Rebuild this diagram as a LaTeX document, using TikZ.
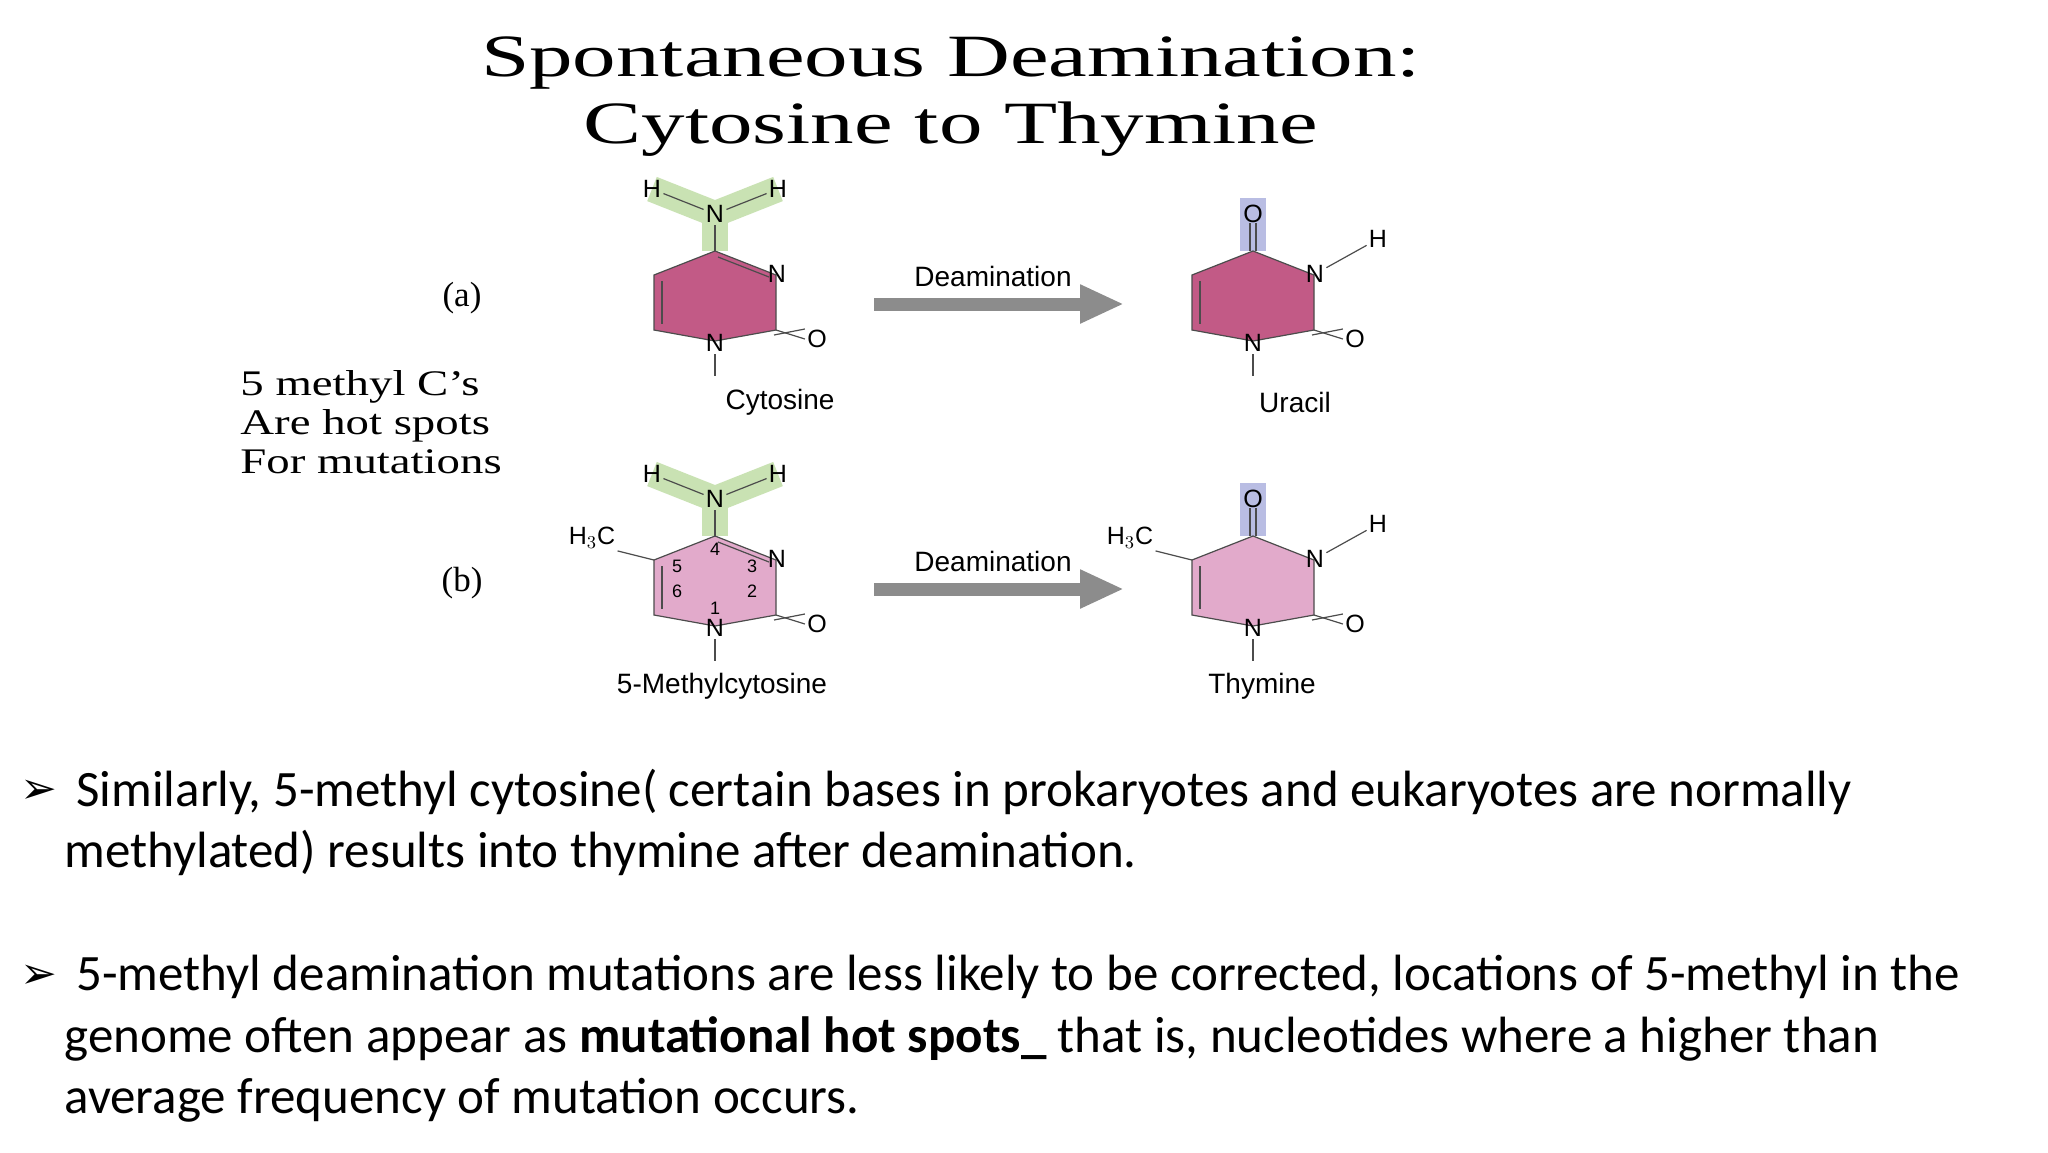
\documentclass[tikz,border=0pt]{standalone}
\usepackage{fontspec}
\setmainfont{Liberation Serif}
\newfontfamily\lab{Liberation Sans}
\newfontfamily\body{Carlito}
\newfontfamily\djv{DejaVu Sans}
\usetikzlibrary{arrows.meta}
\definecolor{ringA}{HTML}{C25A86}
\definecolor{ringB}{HTML}{E2AACB}
\definecolor{grn}{HTML}{C9E2B3}
\definecolor{blu}{HTML}{B9BDE3}
\definecolor{arr}{HTML}{8C8C8C}
\tikzset{
 atom/.style={font=\lab\fontsize{12.5}{14}\selectfont,inner sep=1pt},
 num/.style={font=\lab\fontsize{9}{10}\selectfont,inner sep=0pt},
 lbl/.style={font=\lab\fontsize{14}{16}\selectfont,inner sep=1pt},
 ser/.style={font=\fontsize{17.5}{20}\selectfont,inner sep=1pt},
 bond/.style={draw=black!70,line width=0.6pt},
 bullet/.style={font=\body\fontsize{25.5}{30}\selectfont,anchor=west,inner sep=0pt},
}
\newcommand{\ringbase}[1]{%
 \draw[bond,fill=#1] (0,-50) -- (61,-26) -- (61,29) -- (0,40) -- (-61,29) -- (-61,-26) -- cycle;
 \draw[bond] (-53,-20) -- (-53,23);
 \node[atom] (n1) at (0,42) {N};
 \node[atom] (o2) at (102,38) {O};
 \draw[bond] (61,29) -- (o2.west);
 \draw[bond] (59,34) -- ([yshift=5]o2.west);
 \coordinate (r) at (0,75);
 \draw[bond] (n1.south) -- (r);
}
\newcommand{\cyt}[1]{%
 \draw[grn,line width=13pt,line join=round] (-63,-112) -- (0,-87) -- (63,-112);
 \draw[grn,line width=13pt] (0,-87) -- (0,-50);
 \ringbase{#1}
 \node[atom] (n3) at (62,-27) {N};
 \draw[bond] (3,-44) -- (54,-24);
 \node[atom] (na) at (0,-87) {N};
 \node[atom] (ha) at (-63,-112) {H};
 \node[atom] (hb) at (63,-112) {H};
 \draw[bond] (na) -- (0,-50);
 \draw[bond] (na) -- (ha); \draw[bond] (na) -- (hb);
}
\newcommand{\ura}[1]{%
 \fill[blu] (-13,-103) rectangle (13,-50);
 \ringbase{#1}
 \node[atom] (n3) at (62,-27) {N};
 \node[atom] (ot) at (0,-87) {O};
 \draw[bond] (-3,-50) -- (-3,-78); \draw[bond] (3,-50) -- (3,-78);
 \node[atom] (h3) at (125,-62) {H};
 \draw[bond] (n3) -- (h3);
}
\begin{document}
\begin{tikzpicture}[x=0.5pt,y=-0.5pt]
\useasboundingbox (0,0) rectangle (2048,1152);
\fill[white] (0,0) rectangle (2048,1152);
\node (t1) at (951,63) {\fontsize{30}{33}\selectfont\scalebox{1.45}[1]{Spontaneous Deamination:}};
\node (t2) at (951,129) {\fontsize{30}{33}\selectfont\scalebox{1.45}[1]{Cytosine to Thymine}};
\node[ser] (la) at (462,298) {(a)};
\node[ser] (lb) at (462,583) {(b)};
\node[align=left,anchor=north west,inner sep=0pt,font=\fontsize{18}{19.5}\selectfont] (note) at (240,370) {\scalebox{1.3}[1]{5 methyl C’s}\\\scalebox{1.3}[1]{Are hot spots}\\\scalebox{1.3}[1]{For mutations}};
% row a
\begin{scope}[shift={(715,301)}]\cyt{ringA}\end{scope}
\node[lbl] (cname) at (780,402) {Cytosine};
\begin{scope}[shift={(1253,301)}]\ura{ringA}\end{scope}
\node[lbl] (uname) at (1295,402) {Uracil};
\coordinate (a1) at (874,304); \coordinate (a2) at (1124,304);
\draw[arr,line width=6.5pt,-{Triangle[length=22pt,width=18pt]}] (a1) -- (a2);
\node[lbl] (d1) at (993,276) {Deamination};
% row b
\begin{scope}[shift={(715,586)}]\cyt{ringB}
 \node[atom] (m1) at (-123,-48) {H$_3$C};
 \draw[bond] (m1.south east) -- (-61,-26);
 \node[num] at (0,-37) {4}; \node[num] at (-38,-20) {5}; \node[num] at (-38,5) {6};
 \node[num] at (37,-20) {3}; \node[num] at (37,5) {2}; \node[num] at (0,22) {1};
\end{scope}
\node[lbl] (mname) at (722,686) {5-Methylcytosine};
\begin{scope}[shift={(1253,586)}]\ura{ringB}
 \node[atom] (m2) at (-123,-48) {H$_3$C};
 \draw[bond] (m2.south east) -- (-61,-26);
\end{scope}
\node[lbl] (tname) at (1262,686) {Thymine};
\coordinate (b1) at (874,589); \coordinate (b2) at (1124,589);
\draw[arr,line width=6.5pt,-{Triangle[length=22pt,width=18pt]}] (b1) -- (b2);
\node[lbl] (d2) at (993,561) {Deamination};
% bullets
\node[font=\djv\fontsize{22}{24}\selectfont,anchor=west,inner sep=0pt] (bu1) at (20,792) {➢};
\node[bullet] (l1) at (76,792) {Similarly, 5-methyl cytosine( certain bases in prokaryotes and eukaryotes are normally};
\node[bullet] (l2) at (64,853) {methylated) results into thymine after deamination.};
\node[font=\djv\fontsize{22}{24}\selectfont,anchor=west,inner sep=0pt] (bu2) at (20,977) {➢};
\node[bullet] (l3) at (76,977) {5-methyl deamination mutations are less likely to be corrected, locations of 5-methyl in the};
\node[bullet] (l4) at (64,1039) {genome often appear as \textbf{mutational hot spots\_} that is, nucleotides where a higher than};
\node[bullet] (l5) at (64,1100) {average frequency of mutation occurs.};
\end{tikzpicture}
\end{document}
